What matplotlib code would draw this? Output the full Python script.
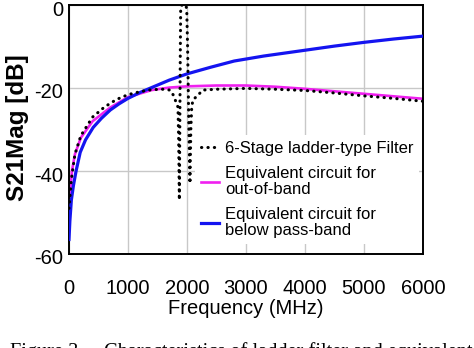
import numpy as np
import matplotlib
matplotlib.use('Agg')
import matplotlib.pyplot as plt
import matplotlib.transforms as mtransforms

plt.rcParams['font.family'] = ['Liberation Sans', 'DejaVu Sans']
plt.rcParams['axes.unicode_minus'] = False

# 6-stage ladder filter (dotted)
f_lad = [0, 40, 100, 200, 400, 600, 800, 1000, 1200, 1400, 1600, 1712, 1768, 1847, 1858,
         1870, 1878, 1886, 1893, 1910, 1950, 1980, 1995, 2010, 2030, 2050, 2065, 2080,
         2100, 2186, 2270, 2500, 3000, 3500, 4000, 4500, 5000, 5500, 6000]
s_lad = [-49, -42, -36, -31.5, -27, -24.6, -22.8, -21.6, -20.9, -20.4, -20.3, -20.5, -21.7, -24.6, -32,
         -47, -30, -12, -1, 0, 0, 0, -1, -10, -28, -43, -30, -24.6,
         -22.9, -21.7, -20.5, -20.3, -20.1, -20.3, -20.6, -21.2, -21.9, -22.5, -23.2]

# equivalent circuit, out-of-band (magenta)
f_out = [0, 20, 50, 100, 200, 400, 700, 1000, 1400, 1700, 2000, 2500, 3000, 3500, 4000, 4500, 5000, 5500, 6000]
s_out = [-50, -45, -40, -36, -32, -28, -24.7, -22.2, -20.5, -19.9, -19.6, -19.4, -19.4, -19.7, -20.2, -20.8, -21.4, -22.0, -22.6]

# equivalent circuit, below pass-band (blue)
f_blw = [0, 15, 40, 75, 120, 190, 280, 410, 550, 700, 850, 1000, 1200, 1400, 1700, 2000, 2400, 2800,
         3300, 3900, 4500, 5000, 5500, 6000]
s_blw = [-56.5, -52, -47, -43.5, -40, -35.5, -32.5, -29.5, -27.3, -25.3, -23.8, -22.5, -21.1, -19.9, -18.1,
         -16.6, -15, -13.5, -12.3, -11.1, -9.9, -9.0, -8.2, -7.5]

xticks = [0, 1000, 2000, 3000, 4000, 5000, 6000]
yticks = [0, -20, -40, -60]

fig = plt.figure(figsize=(4.74, 3.48), dpi=100)
ax = fig.add_axes([69/474, 1-254/348, 354/474, 249/348])

ax.plot(f_blw, s_blw, color='#1414f0', lw=2.3, zorder=3,
        label='Equivalent circuit for\nbelow pass-band')
ax.plot(f_out, s_out, color='#f020f0', lw=1.9, zorder=2,
        label='Equivalent circuit for\nout-of-band')
ax.plot(f_lad, s_lad, color='black', lw=2.2, ls=(0, (0.1, 2.0)), dash_capstyle='round',
        zorder=4, label='6-Stage ladder-type Filter')

ax.set_xlim(0, 6000)
ax.set_ylim(-60, 0)
ax.set_xticks(xticks)
ax.set_yticks(yticks)
ax.tick_params(length=0, labelsize=14.5)
ax.tick_params(axis='x', pad=18)
ax.tick_params(axis='y', pad=4)
ax.grid(True, color='#c8c8c8', lw=1)
ax.set_axisbelow(True)
for sp in ax.spines.values():
    sp.set_linewidth(1.4)

# y labels sit a little low in the original
shift = mtransforms.ScaledTranslation(0, -3/100, fig.dpi_scale_trans)
for lbl in ax.get_yticklabels():
    lbl.set_transform(lbl.get_transform() + shift)

ax.set_xlabel('Frequency (MHz)', fontsize=14.5, labelpad=1)
fig.text(18/474, 1-128/348, 'S21Mag [dB]', fontsize=17.5, fontweight='bold',
         rotation=90, ha='center', va='center')

h, l = ax.get_legend_handles_labels()
leg = ax.legend(h[::-1], l[::-1], loc='lower right', bbox_to_anchor=(0.99, 0.04),
                borderaxespad=0, fontsize=12, frameon=True, fancybox=False, edgecolor='none',
                facecolor='white', framealpha=1, handlelength=1.1, handletextpad=0.35,
                labelspacing=0.6, borderpad=0.35)
for t in leg.get_texts():
    t.set_linespacing(1.08)

fig.text(10/474, 1-342/348, 'Figure 3.    Characteristics of ladder filter and equivalent circuit',
         family='Liberation Serif', fontsize=14.7, va='top')

fig.savefig('out.png', dpi=100)
